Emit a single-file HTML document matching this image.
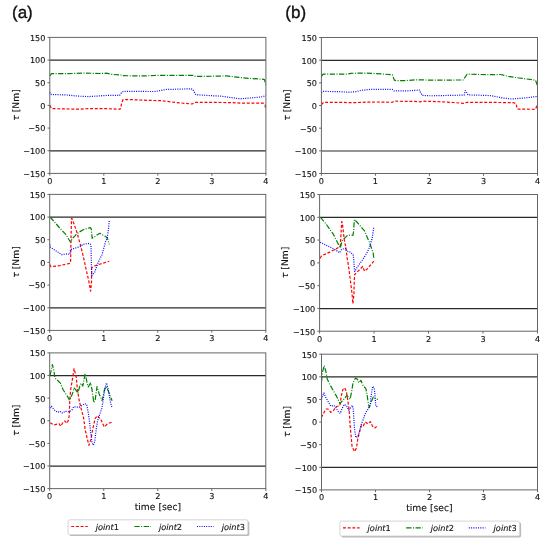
<!DOCTYPE html>
<html><head><meta charset="utf-8"><style>
html,body{margin:0;padding:0;background:#fff;}
svg{display:block;}
text{text-rendering:geometricPrecision;font-family:"DejaVu Sans","Liberation Sans",sans-serif;fill:#111;}
.yt{font-size:8.1px;text-anchor:end;}
.yt,.xt,.yl,.xl,.lg{stroke:#111;stroke-width:0.12;}
.xt{font-size:8.1px;text-anchor:middle;}
.yl,.xl{font-size:9.2px;text-anchor:middle;}
.lg{font-size:8.2px;}
.it{font-style:oblique;}
.pl{font-family:"Liberation Sans",Arial,sans-serif;font-size:17px;fill:#111;stroke:#111;stroke-width:0.35;}
.hl{stroke:#2a2a2a;stroke-width:1.2;}
.sp{fill:none;stroke:#666;stroke-width:1.0;}
.tk{stroke:#666;stroke-width:1.0;}
.j1{fill:none;stroke-linejoin:round;stroke:#f00;stroke-width:1.2;stroke-dasharray:2.95 1.75;}
.j2{fill:none;stroke-linejoin:round;stroke:#008000;stroke-width:1.2;stroke-dasharray:5.3 1.5 1 1.5;}
.j3{fill:none;stroke-linejoin:round;stroke:#00f;stroke-width:1.2;stroke-dasharray:1 1.3;}
</style></head><body>
<svg width="550" height="546" viewBox="0 0 550 546">
<rect width="550" height="546" fill="#fff"/>
<g>
<text x="12.0" y="17.5" class="pl">(a)</text>
<text x="285.3" y="18.3" class="pl">(b)</text>
<line x1="49.8" x2="265.9" y1="60.22" y2="60.22" class="hl"/>
<line x1="49.8" x2="265.9" y1="150.88" y2="150.88" class="hl"/>
<path d="M49.9 105.3 L51.5 108.6 L77.7 109.2 L88.6 108.6 L105.0 108.6 L120.2 109.2 L121.8 103.2 L122.9 99.7 L132.7 99.7 L149.1 100.4 L161.5 100.7 L176.8 102.6 L192.1 104.0 L194.8 102.4 L215.0 102.4 L231.8 102.6 L242.7 103.2 L263.4 103.2 L265.1 104.8 L265.7 109.3" class="j1"/>
<path d="M49.9 75.9 L51.5 73.7 L66.8 73.7 L85.3 73.1 L100.0 73.5 L106.5 73.2 L110.9 74.3 L120.7 75.0 L122.9 75.7 L143.6 75.9 L154.5 75.5 L160.5 75.4 L193.2 75.4 L195.3 76.5 L215.0 76.2 L226.4 75.9 L234.0 76.8 L248.2 78.3 L262.3 79.2 L264.5 79.7 L265.7 84.5" class="j2"/>
<path d="M49.9 92.3 L50.5 94.4 L66.8 95.0 L77.7 96.1 L88.6 96.6 L99.5 95.9 L105.0 95.5 L119.6 95.3 L121.8 92.3 L123.4 91.4 L155.0 91.5 L165.9 89.5 L191.0 88.8 L192.6 89.2 L195.9 94.7 L215.0 95.9 L220.9 96.1 L231.8 97.7 L240.5 98.8 L253.6 97.7 L263.4 96.6 L265.6 95.0" class="j3"/>
<rect x="49.8" y="37.4" width="216.1" height="136" class="sp"/>
<line x1="47.5" x2="49.8" y1="173.4" y2="173.4" class="tk"/>
<text x="45.4" y="176.8" class="yt">−150</text>
<line x1="47.5" x2="49.8" y1="150.73" y2="150.73" class="tk"/>
<text x="45.4" y="154.13" class="yt">−100</text>
<line x1="47.5" x2="49.8" y1="128.07" y2="128.07" class="tk"/>
<text x="45.4" y="131.47" class="yt">−50</text>
<line x1="47.5" x2="49.8" y1="105.4" y2="105.4" class="tk"/>
<text x="45.4" y="108.8" class="yt">0</text>
<line x1="47.5" x2="49.8" y1="82.73" y2="82.73" class="tk"/>
<text x="45.4" y="86.13" class="yt">50</text>
<line x1="47.5" x2="49.8" y1="60.07" y2="60.07" class="tk"/>
<text x="45.4" y="63.47" class="yt">100</text>
<line x1="47.5" x2="49.8" y1="37.4" y2="37.4" class="tk"/>
<text x="45.4" y="40.8" class="yt">150</text>
<line x1="49.8" x2="49.8" y1="173.4" y2="175.7" class="tk"/>
<text x="49.8" y="183.8" class="xt">0</text>
<line x1="103.82" x2="103.82" y1="173.4" y2="175.7" class="tk"/>
<text x="103.82" y="183.8" class="xt">1</text>
<line x1="157.85" x2="157.85" y1="173.4" y2="175.7" class="tk"/>
<text x="157.85" y="183.8" class="xt">2</text>
<line x1="211.88" x2="211.88" y1="173.4" y2="175.7" class="tk"/>
<text x="211.88" y="183.8" class="xt">3</text>
<line x1="265.9" x2="265.9" y1="173.4" y2="175.7" class="tk"/>
<text x="265.9" y="183.8" class="xt">4</text>
<text transform="translate(18.9,104.95) rotate(-90)" class="yl"><tspan class="it">τ</tspan> [Nm]</text>
<line x1="321.4" x2="537.5" y1="60.32" y2="60.32" class="hl"/>
<line x1="321.4" x2="537.5" y1="150.98" y2="150.98" class="hl"/>
<path d="M321.5 104.7 L323.6 102.3 L337.8 102.3 L353.1 102.7 L361.8 102.3 L376.0 102.0 L392.3 102.3 L394.4 101.2 L414.6 101.4 L420.1 101.8 L423.3 101.2 L431.0 101.4 L442.4 101.8 L453.3 102.5 L464.2 103.4 L466.9 102.3 L486.0 102.3 L513.7 102.7 L515.9 103.6 L517.5 109.1 L535.5 109.3 L537.2 104.7" class="j1"/>
<path d="M321.5 76.4 L323.1 74.2 L346.5 74.2 L350.9 73.3 L361.8 73.1 L371.0 73.3 L381.9 74.0 L392.3 74.7 L394.4 80.2 L396.1 80.7 L407.0 80.5 L414.6 79.8 L431.0 80.1 L463.1 80.0 L464.2 78.5 L467.2 74.0 L469.6 74.2 L486.5 74.7 L500.6 74.5 L508.3 76.4 L519.2 78.0 L535.5 80.2 L537.2 85.1" class="j2"/>
<path d="M321.5 92.7 L322.5 91.4 L337.8 91.6 L348.7 92.2 L355.3 91.8 L361.8 90.3 L370.5 89.4 L392.3 89.4 L393.9 90.9 L409.2 90.8 L419.5 90.0 L420.6 92.7 L422.3 95.4 L431.0 95.8 L464.2 95.1 L465.3 90.5 L466.9 92.7 L468.0 94.9 L486.0 95.4 L491.9 95.8 L502.8 98.0 L511.5 99.0 L524.6 98.0 L536.6 96.5" class="j3"/>
<rect x="321.4" y="37.5" width="216.1" height="136" class="sp"/>
<line x1="319.1" x2="321.4" y1="173.5" y2="173.5" class="tk"/>
<text x="317" y="176.9" class="yt">−150</text>
<line x1="319.1" x2="321.4" y1="150.83" y2="150.83" class="tk"/>
<text x="317" y="154.23" class="yt">−100</text>
<line x1="319.1" x2="321.4" y1="128.17" y2="128.17" class="tk"/>
<text x="317" y="131.57" class="yt">−50</text>
<line x1="319.1" x2="321.4" y1="105.5" y2="105.5" class="tk"/>
<text x="317" y="108.9" class="yt">0</text>
<line x1="319.1" x2="321.4" y1="82.83" y2="82.83" class="tk"/>
<text x="317" y="86.23" class="yt">50</text>
<line x1="319.1" x2="321.4" y1="60.17" y2="60.17" class="tk"/>
<text x="317" y="63.57" class="yt">100</text>
<line x1="319.1" x2="321.4" y1="37.5" y2="37.5" class="tk"/>
<text x="317" y="40.9" class="yt">150</text>
<line x1="321.4" x2="321.4" y1="173.5" y2="175.8" class="tk"/>
<text x="321.4" y="183.9" class="xt">0</text>
<line x1="375.42" x2="375.42" y1="173.5" y2="175.8" class="tk"/>
<text x="375.42" y="183.9" class="xt">1</text>
<line x1="429.45" x2="429.45" y1="173.5" y2="175.8" class="tk"/>
<text x="429.45" y="183.9" class="xt">2</text>
<line x1="483.48" x2="483.48" y1="173.5" y2="175.8" class="tk"/>
<text x="483.48" y="183.9" class="xt">3</text>
<line x1="537.5" x2="537.5" y1="173.5" y2="175.8" class="tk"/>
<text x="537.5" y="183.9" class="xt">4</text>
<text transform="translate(289.8,105.05) rotate(-90)" class="yl"><tspan class="it">τ</tspan> [Nm]</text>
<line x1="49.7" x2="265.8" y1="217.22" y2="217.22" class="hl"/>
<line x1="49.7" x2="265.8" y1="307.88" y2="307.88" class="hl"/>
<path d="M49.8 264.5 L50.9 266.7 L59.7 265.6 L69.9 263.4 L70.6 262.0 L71.0 240.0 L71.5 218.4 L72.0 218.6 L74.3 224.7 L77.2 233.4 L80.9 246.6 L84.6 262.0 L85.1 265.0 L89.0 282.0 L90.6 291.2 L91.5 282.0 L91.7 267.7 L93.9 266.1 L97.6 264.9 L109.3 261.2" class="j1"/>
<path d="M50.1 217.0 L60.0 228.3 L65.5 234.2 L70.6 242.2 L72.1 238.9 L76.5 234.2 L80.0 231.6 L84.4 229.2 L90.3 227.6 L91.4 229.4 L92.1 238.2 L99.8 233.3 L106.4 237.1 L107.8 239.3 L109.3 244.4" class="j2"/>
<path d="M49.8 244.4 L50.5 247.3 L61.8 254.7 L67.0 253.9 L69.9 254.3 L70.6 249.5 L80.2 246.6 L82.9 244.4 L89.5 243.3 L91.0 245.1 L91.4 265.6 L91.7 275.9 L94.7 272.2 L98.3 262.0 L102.0 254.7 L105.6 241.5 L107.1 238.6 L108.6 228.3 L109.3 220.3" class="j3"/>
<rect x="49.7" y="194.4" width="216.1" height="136" class="sp"/>
<line x1="47.4" x2="49.7" y1="330.4" y2="330.4" class="tk"/>
<text x="45.3" y="333.8" class="yt">−150</text>
<line x1="47.4" x2="49.7" y1="307.73" y2="307.73" class="tk"/>
<text x="45.3" y="311.13" class="yt">−100</text>
<line x1="47.4" x2="49.7" y1="285.07" y2="285.07" class="tk"/>
<text x="45.3" y="288.47" class="yt">−50</text>
<line x1="47.4" x2="49.7" y1="262.4" y2="262.4" class="tk"/>
<text x="45.3" y="265.8" class="yt">0</text>
<line x1="47.4" x2="49.7" y1="239.73" y2="239.73" class="tk"/>
<text x="45.3" y="243.13" class="yt">50</text>
<line x1="47.4" x2="49.7" y1="217.07" y2="217.07" class="tk"/>
<text x="45.3" y="220.47" class="yt">100</text>
<line x1="47.4" x2="49.7" y1="194.4" y2="194.4" class="tk"/>
<text x="45.3" y="197.8" class="yt">150</text>
<line x1="49.7" x2="49.7" y1="330.4" y2="332.7" class="tk"/>
<text x="49.7" y="340.8" class="xt">0</text>
<line x1="103.73" x2="103.73" y1="330.4" y2="332.7" class="tk"/>
<text x="103.73" y="340.8" class="xt">1</text>
<line x1="157.75" x2="157.75" y1="330.4" y2="332.7" class="tk"/>
<text x="157.75" y="340.8" class="xt">2</text>
<line x1="211.78" x2="211.78" y1="330.4" y2="332.7" class="tk"/>
<text x="211.78" y="340.8" class="xt">3</text>
<line x1="265.8" x2="265.8" y1="330.4" y2="332.7" class="tk"/>
<text x="265.8" y="340.8" class="xt">4</text>
<text transform="translate(18.8,261.95) rotate(-90)" class="yl"><tspan class="it">τ</tspan> [Nm]</text>
<line x1="319.6" x2="537.5" y1="217.43" y2="217.43" class="hl"/>
<line x1="319.6" x2="537.5" y1="308.57" y2="308.57" class="hl"/>
<path d="M320.1 258.3 L321.6 255.8 L329.7 252.1 L336.2 248.8 L340.3 246.2 L341.0 235.0 L341.7 221.7 L342.3 222.5 L344.3 240.0 L345.8 247.3 L347.2 258.3 L348.4 265.0 L349.4 273.0 L350.3 279.7 L352.1 294.3 L352.9 303.7 L353.9 294.3 L354.3 279.7 L354.7 274.5 L358.3 270.9 L362.7 266.5 L364.5 271.2 L367.6 268.6 L373.8 261.2" class="j1"/>
<path d="M320.5 217.3 L326.0 223.9 L333.3 234.2 L340.3 248.0 L342.1 240.8 L347.2 235.6 L350.9 234.9 L352.9 235.3 L353.7 231.2 L354.0 224.7 L354.4 219.5 L357.3 222.5 L364.7 231.2 L369.0 241.5 L371.2 247.3 L373.1 252.5 L373.8 258.3" class="j2"/>
<path d="M320.1 242.2 L326.0 245.1 L330.4 247.3 L334.8 249.5 L339.9 252.8 L341.4 249.5 L345.8 248.1 L346.5 251.0 L350.2 252.1 L353.1 254.7 L353.8 259.8 L354.4 269.3 L354.8 271.5 L357.3 267.1 L362.5 259.8 L366.8 253.2 L369.8 246.6 L371.2 241.5 L372.0 239.3 L373.8 227.2" class="j3"/>
<rect x="319.6" y="194.5" width="217.9" height="136.7" class="sp"/>
<line x1="317.3" x2="319.6" y1="331.2" y2="331.2" class="tk"/>
<text x="315.2" y="334.6" class="yt">−150</text>
<line x1="317.3" x2="319.6" y1="308.42" y2="308.42" class="tk"/>
<text x="315.2" y="311.82" class="yt">−100</text>
<line x1="317.3" x2="319.6" y1="285.63" y2="285.63" class="tk"/>
<text x="315.2" y="289.03" class="yt">−50</text>
<line x1="317.3" x2="319.6" y1="262.85" y2="262.85" class="tk"/>
<text x="315.2" y="266.25" class="yt">0</text>
<line x1="317.3" x2="319.6" y1="240.07" y2="240.07" class="tk"/>
<text x="315.2" y="243.47" class="yt">50</text>
<line x1="317.3" x2="319.6" y1="217.28" y2="217.28" class="tk"/>
<text x="315.2" y="220.68" class="yt">100</text>
<line x1="317.3" x2="319.6" y1="194.5" y2="194.5" class="tk"/>
<text x="315.2" y="197.9" class="yt">150</text>
<line x1="319.6" x2="319.6" y1="331.2" y2="333.5" class="tk"/>
<text x="319.6" y="341.6" class="xt">0</text>
<line x1="374.08" x2="374.08" y1="331.2" y2="333.5" class="tk"/>
<text x="374.08" y="341.6" class="xt">1</text>
<line x1="428.55" x2="428.55" y1="331.2" y2="333.5" class="tk"/>
<text x="428.55" y="341.6" class="xt">2</text>
<line x1="483.02" x2="483.02" y1="331.2" y2="333.5" class="tk"/>
<text x="483.02" y="341.6" class="xt">3</text>
<line x1="537.5" x2="537.5" y1="331.2" y2="333.5" class="tk"/>
<text x="537.5" y="341.6" class="xt">4</text>
<text transform="translate(287.5,262.4) rotate(-90)" class="yl"><tspan class="it">τ</tspan> [Nm]</text>
<line x1="49.7" x2="265.8" y1="375.67" y2="375.67" class="hl"/>
<line x1="49.7" x2="265.8" y1="466.13" y2="466.13" class="hl"/>
<path d="M50.1 422.7 L54.0 424.9 L59.1 423.7 L60.7 426.2 L63.6 421.4 L64.9 421.1 L67.1 423.3 L68.4 420.1 L69.0 416.9 L69.4 412.4 L69.7 402.8 L70.6 390.0 L71.9 382.4 L74.1 368.7 L76.4 377.9 L77.3 388.8 L79.2 400.5 L81.0 408.0 L83.7 418.3 L85.1 429.3 L86.9 437.2 L88.9 445.3 L91.1 439.0 L92.9 428.4 L95.2 418.3 L97.5 415.6 L101.1 420.1 L104.3 427.0 L107.5 423.8 L112.1 422.0" class="j1"/>
<path d="M50.1 375.4 L52.4 364.5 L54.0 371.5 L54.9 377.9 L60.4 383.1 L63.0 389.5 L66.2 394.6 L68.7 398.3 L69.4 400.3 L71.9 395.1 L73.2 391.3 L74.1 387.9 L75.5 389.3 L77.8 393.4 L80.1 385.1 L81.4 383.3 L82.8 386.1 L85.1 373.7 L87.4 384.2 L88.3 387.0 L90.6 382.9 L92.0 389.7 L93.8 402.5 L95.2 399.8 L97.0 386.5 L99.3 394.3 L102.1 400.7 L104.3 390.6 L106.2 386.5 L108.5 391.6 L112.1 400.7" class="j2"/>
<path d="M49.8 408.0 L51.4 406.3 L54.6 410.2 L57.8 412.4 L59.7 411.2 L61.7 412.8 L63.6 412.8 L64.9 411.2 L69.4 411.8 L71.9 409.9 L73.8 406.7 L79.2 407.3 L84.7 403.6 L86.7 404.5 L88.3 413.0 L89.7 422.9 L90.6 432.1 L92.0 442.6 L93.4 445.2 L94.7 441.6 L96.1 430.2 L97.5 421.1 L99.3 415.6 L101.6 409.2 L103.0 401.5 L104.8 387.9 L106.6 382.9 L108.5 390.6 L110.3 401.6 L112.1 408.0" class="j3"/>
<rect x="49.7" y="352.9" width="216.1" height="135.7" class="sp"/>
<line x1="47.4" x2="49.7" y1="488.6" y2="488.6" class="tk"/>
<text x="45.3" y="492" class="yt">−150</text>
<line x1="47.4" x2="49.7" y1="465.98" y2="465.98" class="tk"/>
<text x="45.3" y="469.38" class="yt">−100</text>
<line x1="47.4" x2="49.7" y1="443.37" y2="443.37" class="tk"/>
<text x="45.3" y="446.77" class="yt">−50</text>
<line x1="47.4" x2="49.7" y1="420.75" y2="420.75" class="tk"/>
<text x="45.3" y="424.15" class="yt">0</text>
<line x1="47.4" x2="49.7" y1="398.13" y2="398.13" class="tk"/>
<text x="45.3" y="401.53" class="yt">50</text>
<line x1="47.4" x2="49.7" y1="375.52" y2="375.52" class="tk"/>
<text x="45.3" y="378.92" class="yt">100</text>
<line x1="47.4" x2="49.7" y1="352.9" y2="352.9" class="tk"/>
<text x="45.3" y="356.3" class="yt">150</text>
<line x1="49.7" x2="49.7" y1="488.6" y2="490.9" class="tk"/>
<text x="49.7" y="499" class="xt">0</text>
<line x1="103.73" x2="103.73" y1="488.6" y2="490.9" class="tk"/>
<text x="103.73" y="499" class="xt">1</text>
<line x1="157.75" x2="157.75" y1="488.6" y2="490.9" class="tk"/>
<text x="157.75" y="499" class="xt">2</text>
<line x1="211.78" x2="211.78" y1="488.6" y2="490.9" class="tk"/>
<text x="211.78" y="499" class="xt">3</text>
<line x1="265.8" x2="265.8" y1="488.6" y2="490.9" class="tk"/>
<text x="265.8" y="499" class="xt">4</text>
<text transform="translate(18.8,420.3) rotate(-90)" class="yl"><tspan class="it">τ</tspan> [Nm]</text>
<line x1="321.5" x2="537.5" y1="376.97" y2="376.97" class="hl"/>
<line x1="321.5" x2="537.5" y1="467.43" y2="467.43" class="hl"/>
<path d="M321.3 417.5 L323.9 412.7 L326.1 409.0 L327.9 409.0 L330.8 412.3 L333.4 410.5 L336.3 406.5 L339.9 405.7 L341.3 396.2 L342.8 389.6 L344.6 387.8 L346.5 391.8 L347.9 401.3 L349.0 408.6 L349.5 415.6 L350.2 426.6 L351.0 434.7 L352.1 447.1 L354.7 451.5 L356.5 447.8 L357.9 438.3 L359.8 431.0 L361.4 425.1 L363.3 425.8 L365.3 421.9 L367.8 423.8 L370.4 421.6 L372.3 425.8 L374.2 428.0 L375.5 427.7 L377.8 424.8" class="j1"/>
<path d="M321.6 381.2 L322.5 372.0 L324.2 365.5 L326.1 372.5 L327.2 379.0 L329.7 384.2 L333.4 390.8 L334.0 391.8 L336.9 396.9 L339.9 403.5 L342.8 400.6 L346.8 395.4 L350.1 399.1 L351.6 391.8 L353.0 383.0 L355.5 378.0 L357.4 379.3 L358.8 382.8 L360.8 380.3 L363.3 386.0 L365.9 388.6 L367.2 395.6 L368.1 402.0 L369.2 407.5 L371.7 400.8 L373.3 396.9 L374.9 398.2 L377.9 399.5" class="j2"/>
<path d="M321.5 399.5 L322.0 397.3 L323.9 392.9 L325.0 395.9 L327.5 400.3 L330.8 406.1 L333.4 405.4 L335.6 406.8 L337.8 411.2 L340.3 413.4 L342.2 408.3 L344.4 404.3 L346.6 406.1 L348.8 410.1 L352.4 405.4 L353.2 409.0 L353.9 419.3 L354.6 429.6 L355.8 437.6 L357.9 436.5 L359.8 430.3 L361.4 423.8 L363.3 419.4 L364.6 415.5 L365.9 412.3 L368.5 408.5 L370.4 404.6 L370.7 398.8 L372.0 390.5 L372.6 386.3 L374.2 387.9 L374.9 394.4 L375.5 402.0 L375.8 406.2 L377.8 406.9" class="j3"/>
<rect x="321.5" y="354.2" width="216" height="135.7" class="sp"/>
<line x1="319.2" x2="321.5" y1="489.9" y2="489.9" class="tk"/>
<text x="317.1" y="493.3" class="yt">−150</text>
<line x1="319.2" x2="321.5" y1="467.28" y2="467.28" class="tk"/>
<text x="317.1" y="470.68" class="yt">−100</text>
<line x1="319.2" x2="321.5" y1="444.67" y2="444.67" class="tk"/>
<text x="317.1" y="448.07" class="yt">−50</text>
<line x1="319.2" x2="321.5" y1="422.05" y2="422.05" class="tk"/>
<text x="317.1" y="425.45" class="yt">0</text>
<line x1="319.2" x2="321.5" y1="399.43" y2="399.43" class="tk"/>
<text x="317.1" y="402.83" class="yt">50</text>
<line x1="319.2" x2="321.5" y1="376.82" y2="376.82" class="tk"/>
<text x="317.1" y="380.22" class="yt">100</text>
<line x1="319.2" x2="321.5" y1="354.2" y2="354.2" class="tk"/>
<text x="317.1" y="357.6" class="yt">150</text>
<line x1="321.5" x2="321.5" y1="489.9" y2="492.2" class="tk"/>
<text x="321.5" y="500.3" class="xt">0</text>
<line x1="375.5" x2="375.5" y1="489.9" y2="492.2" class="tk"/>
<text x="375.5" y="500.3" class="xt">1</text>
<line x1="429.5" x2="429.5" y1="489.9" y2="492.2" class="tk"/>
<text x="429.5" y="500.3" class="xt">2</text>
<line x1="483.5" x2="483.5" y1="489.9" y2="492.2" class="tk"/>
<text x="483.5" y="500.3" class="xt">3</text>
<line x1="537.5" x2="537.5" y1="489.9" y2="492.2" class="tk"/>
<text x="537.5" y="500.3" class="xt">4</text>
<text transform="translate(289.9,421.6) rotate(-90)" class="yl"><tspan class="it">τ</tspan> [Nm]</text>
<text x="157.9" y="510.2" class="xl">time [sec]</text>
<text x="429.4" y="510.9" class="xl">time [sec]</text>
<rect x="69.5" y="521.2" width="179.8" height="14.9" rx="1.6" fill="#888" opacity="0.6"/>
<rect x="68.1" y="519.8" width="179.8" height="14.9" rx="1.6" fill="#fff" stroke="#ccc" stroke-width="0.8"/>
<line x1="71.2" x2="87.8" y1="526.5" y2="526.5" class="j1"/>
<text x="95.8" y="529.7" class="lg"><tspan class="it">joint</tspan>1</text>
<line x1="134.4" x2="151" y1="526.5" y2="526.5" class="j2"/>
<text x="158.9" y="529.7" class="lg"><tspan class="it">joint</tspan>2</text>
<line x1="197" x2="213.6" y1="526.5" y2="526.5" class="j3"/>
<text x="221.8" y="529.7" class="lg"><tspan class="it">joint</tspan>3</text>
<rect x="341.3" y="522.5" width="179.8" height="14.9" rx="1.6" fill="#888" opacity="0.6"/>
<rect x="339.9" y="521.1" width="179.8" height="14.9" rx="1.6" fill="#fff" stroke="#ccc" stroke-width="0.8"/>
<line x1="343" x2="359.6" y1="527.8" y2="527.8" class="j1"/>
<text x="367.6" y="531" class="lg"><tspan class="it">joint</tspan>1</text>
<line x1="406.2" x2="422.8" y1="527.8" y2="527.8" class="j2"/>
<text x="430.7" y="531" class="lg"><tspan class="it">joint</tspan>2</text>
<line x1="468.8" x2="485.4" y1="527.8" y2="527.8" class="j3"/>
<text x="493.6" y="531" class="lg"><tspan class="it">joint</tspan>3</text>
</g>
</svg>
</body></html>
